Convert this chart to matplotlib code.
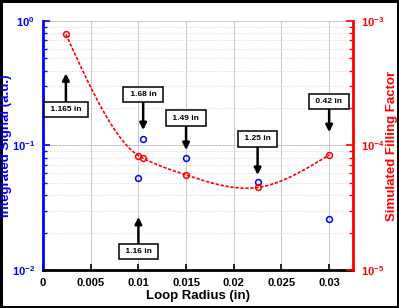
import numpy as np
import matplotlib
matplotlib.use("Agg")
import matplotlib.pyplot as plt
from matplotlib.ticker import FuncFormatter, LogLocator, NullFormatter

plt.rcParams['font.family'] = ['Liberation Sans', 'DejaVu Sans']
plt.rcParams['font.weight'] = 'bold'
plt.rcParams['mathtext.fontset'] = 'custom'
plt.rcParams['mathtext.rm'] = 'Liberation Sans:bold'
plt.rcParams['mathtext.bf'] = 'Liberation Sans:bold'
plt.rcParams['mathtext.it'] = 'Liberation Sans:bold'

# Data
signal_x = [0.0105, 0.01, 0.015, 0.0225, 0.03]
signal_y = [0.113, 0.0548, 0.0794, 0.0506, 0.0258]

ff_x = [0.0024, 0.01, 0.0105, 0.015, 0.0225, 0.03]
ff_y = [7.8e-4, 8.3e-5, 7.9e-5, 5.8e-5, 4.6e-5, 8.4e-5]

labels = ["1.165 in", "1.68 in", "1.49 in", "1.25 in", "0.42 in", "1.16 in"]
label_x = [0.0024, 0.0105, 0.015, 0.0225, 0.03, 0.01]
label_tip = [0.38, 0.133, 0.092, 0.058, 0.128, 0.0267]
label_box = [0.195, 0.257, 0.166, 0.113, 0.226, 0.0141]

xticks = [0, 0.005, 0.01, 0.015, 0.02, 0.025, 0.03]
xticklabels = ["0", "0.005", "0.01", "0.015", "0.02", "0.025", "0.03"]


def natural_spline(x, y, xs):
    x = np.asarray(x, float); y = np.asarray(y, float)
    n = len(x)
    h = np.diff(x)
    A = np.zeros((n, n)); b = np.zeros(n)
    A[0, 0] = 1; A[-1, -1] = 1
    for i in range(1, n - 1):
        A[i, i - 1] = h[i - 1]
        A[i, i] = 2 * (h[i - 1] + h[i])
        A[i, i + 1] = h[i]
        b[i] = 6 * ((y[i + 1] - y[i]) / h[i] - (y[i] - y[i - 1]) / h[i - 1])
    M = np.linalg.solve(A, b)
    out = np.empty_like(xs)
    for k, xv in enumerate(xs):
        i = min(max(np.searchsorted(x, xv) - 1, 0), n - 2)
        t1 = x[i + 1] - xv; t0 = xv - x[i]
        out[k] = (M[i] * t1**3 / (6 * h[i]) + M[i + 1] * t0**3 / (6 * h[i])
                  + (y[i] / h[i] - M[i] * h[i] / 6) * t1
                  + (y[i + 1] / h[i] - M[i + 1] * h[i] / 6) * t0)
    return out


fig = plt.figure(figsize=(3.99, 3.08), dpi=100)
fig.patch.set_edgecolor('black')
fig.patch.set_linewidth(2.5)
ax = fig.add_axes([0.1078, 0.1234, 0.7769, 0.8084])
ax2 = ax.twinx()

blue = '#0000ff'
red = '#ff0000'

ax.set_yscale('log')
ax.set_ylim(1e-2, 1e0)
ax.set_xlim(0, 0.0325)
ax2.set_yscale('log')
ax2.set_ylim(1e-5, 1e-3)

ax.plot(signal_x, signal_y, 'o', mfc='none', mec=blue, mew=1.1, ms=4.2, zorder=5)

xs = np.linspace(ff_x[0], ff_x[-1], 300)
ys = 10 ** natural_spline(ff_x, np.log10(ff_y), xs)
ax2.plot(xs, ys, color=red, lw=1.2, ls=(0, (2, 1)))
ax2.plot(ff_x, ff_y, 'o', mfc='none', mec=red, mew=1.1, ms=4.2)

# grid
ax.set_xticks(xticks)
ax.set_xticklabels(xticklabels)
ax.grid(True, which='major', axis='both', color='#c8c8c8', lw=0.7)
ax.yaxis.set_minor_locator(LogLocator(base=10, subs=np.arange(2, 10)))
ax.yaxis.set_minor_formatter(NullFormatter())
ax.grid(True, which='minor', axis='y', color='#d8d8d8', lw=0.5, ls=(0, (3, 2)))
ax.set_axisbelow(True)

fmt = FuncFormatter(lambda v, p: r'$\mathbf{10^{%d}}$' % int(round(np.log10(v))))
ax.yaxis.set_major_locator(LogLocator(base=10, numticks=5))
ax.yaxis.set_major_formatter(fmt)
ax2.yaxis.set_major_locator(LogLocator(base=10, numticks=5))
ax2.yaxis.set_major_formatter(fmt)
ax2.yaxis.set_minor_locator(LogLocator(base=10, subs=np.arange(2, 10)))
ax2.yaxis.set_minor_formatter(NullFormatter())

ax.tick_params(axis='x', direction='in', length=4, width=1.2, labelsize=8, colors='black', pad=6)
ax.tick_params(axis='y', which='major', direction='in', length=5, width=1.2, labelsize=8, colors=blue, pad=6)
ax.tick_params(axis='y', which='minor', direction='in', length=3, width=1.0, colors=blue)
ax2.tick_params(axis='y', which='major', direction='in', length=5, width=1.2, labelsize=8, colors=red, pad=6)
ax2.tick_params(axis='y', which='minor', direction='in', length=3, width=1.0, colors=red)

for a in (ax, ax2):
    a.spines['top'].set_visible(False)
ax.spines['left'].set_color(blue)
ax.spines['left'].set_linewidth(2)
ax.spines['bottom'].set_linewidth(2)
ax2.spines['right'].set_color(red)
ax2.spines['right'].set_linewidth(2)
ax2.spines['left'].set_visible(False)
ax2.spines['bottom'].set_visible(False)
ax.spines['right'].set_visible(False)

ax.set_xlabel('Loop Radius (in)', fontsize=9.5, fontweight='bold', labelpad=1)
ax.set_ylabel('Integrated Signal (a.u.)', fontsize=9.5, fontweight='bold', color=blue)
ax.yaxis.set_label_coords(-0.1, 0.5)
ax2.set_ylabel('Simulated Filling Factor', fontsize=9.5, fontweight='bold', color=red)
ax2.yaxis.set_label_coords(1.108, 0.5)

for t, x, tip, box in zip(labels, label_x, label_tip, label_box):
    ax.annotate(' ' + t + ' ', xy=(x, tip), xytext=(x, box), ha='center', va='center',
                fontsize=6, fontweight='bold', zorder=10,
                bbox=dict(boxstyle='square,pad=0.5', fc='white', ec='black', lw=1.1),
                arrowprops=dict(arrowstyle='-|>', color='black', lw=1.8, mutation_scale=10,
                                shrinkA=0, shrinkB=0))

fig.savefig('out.png', dpi=100)
